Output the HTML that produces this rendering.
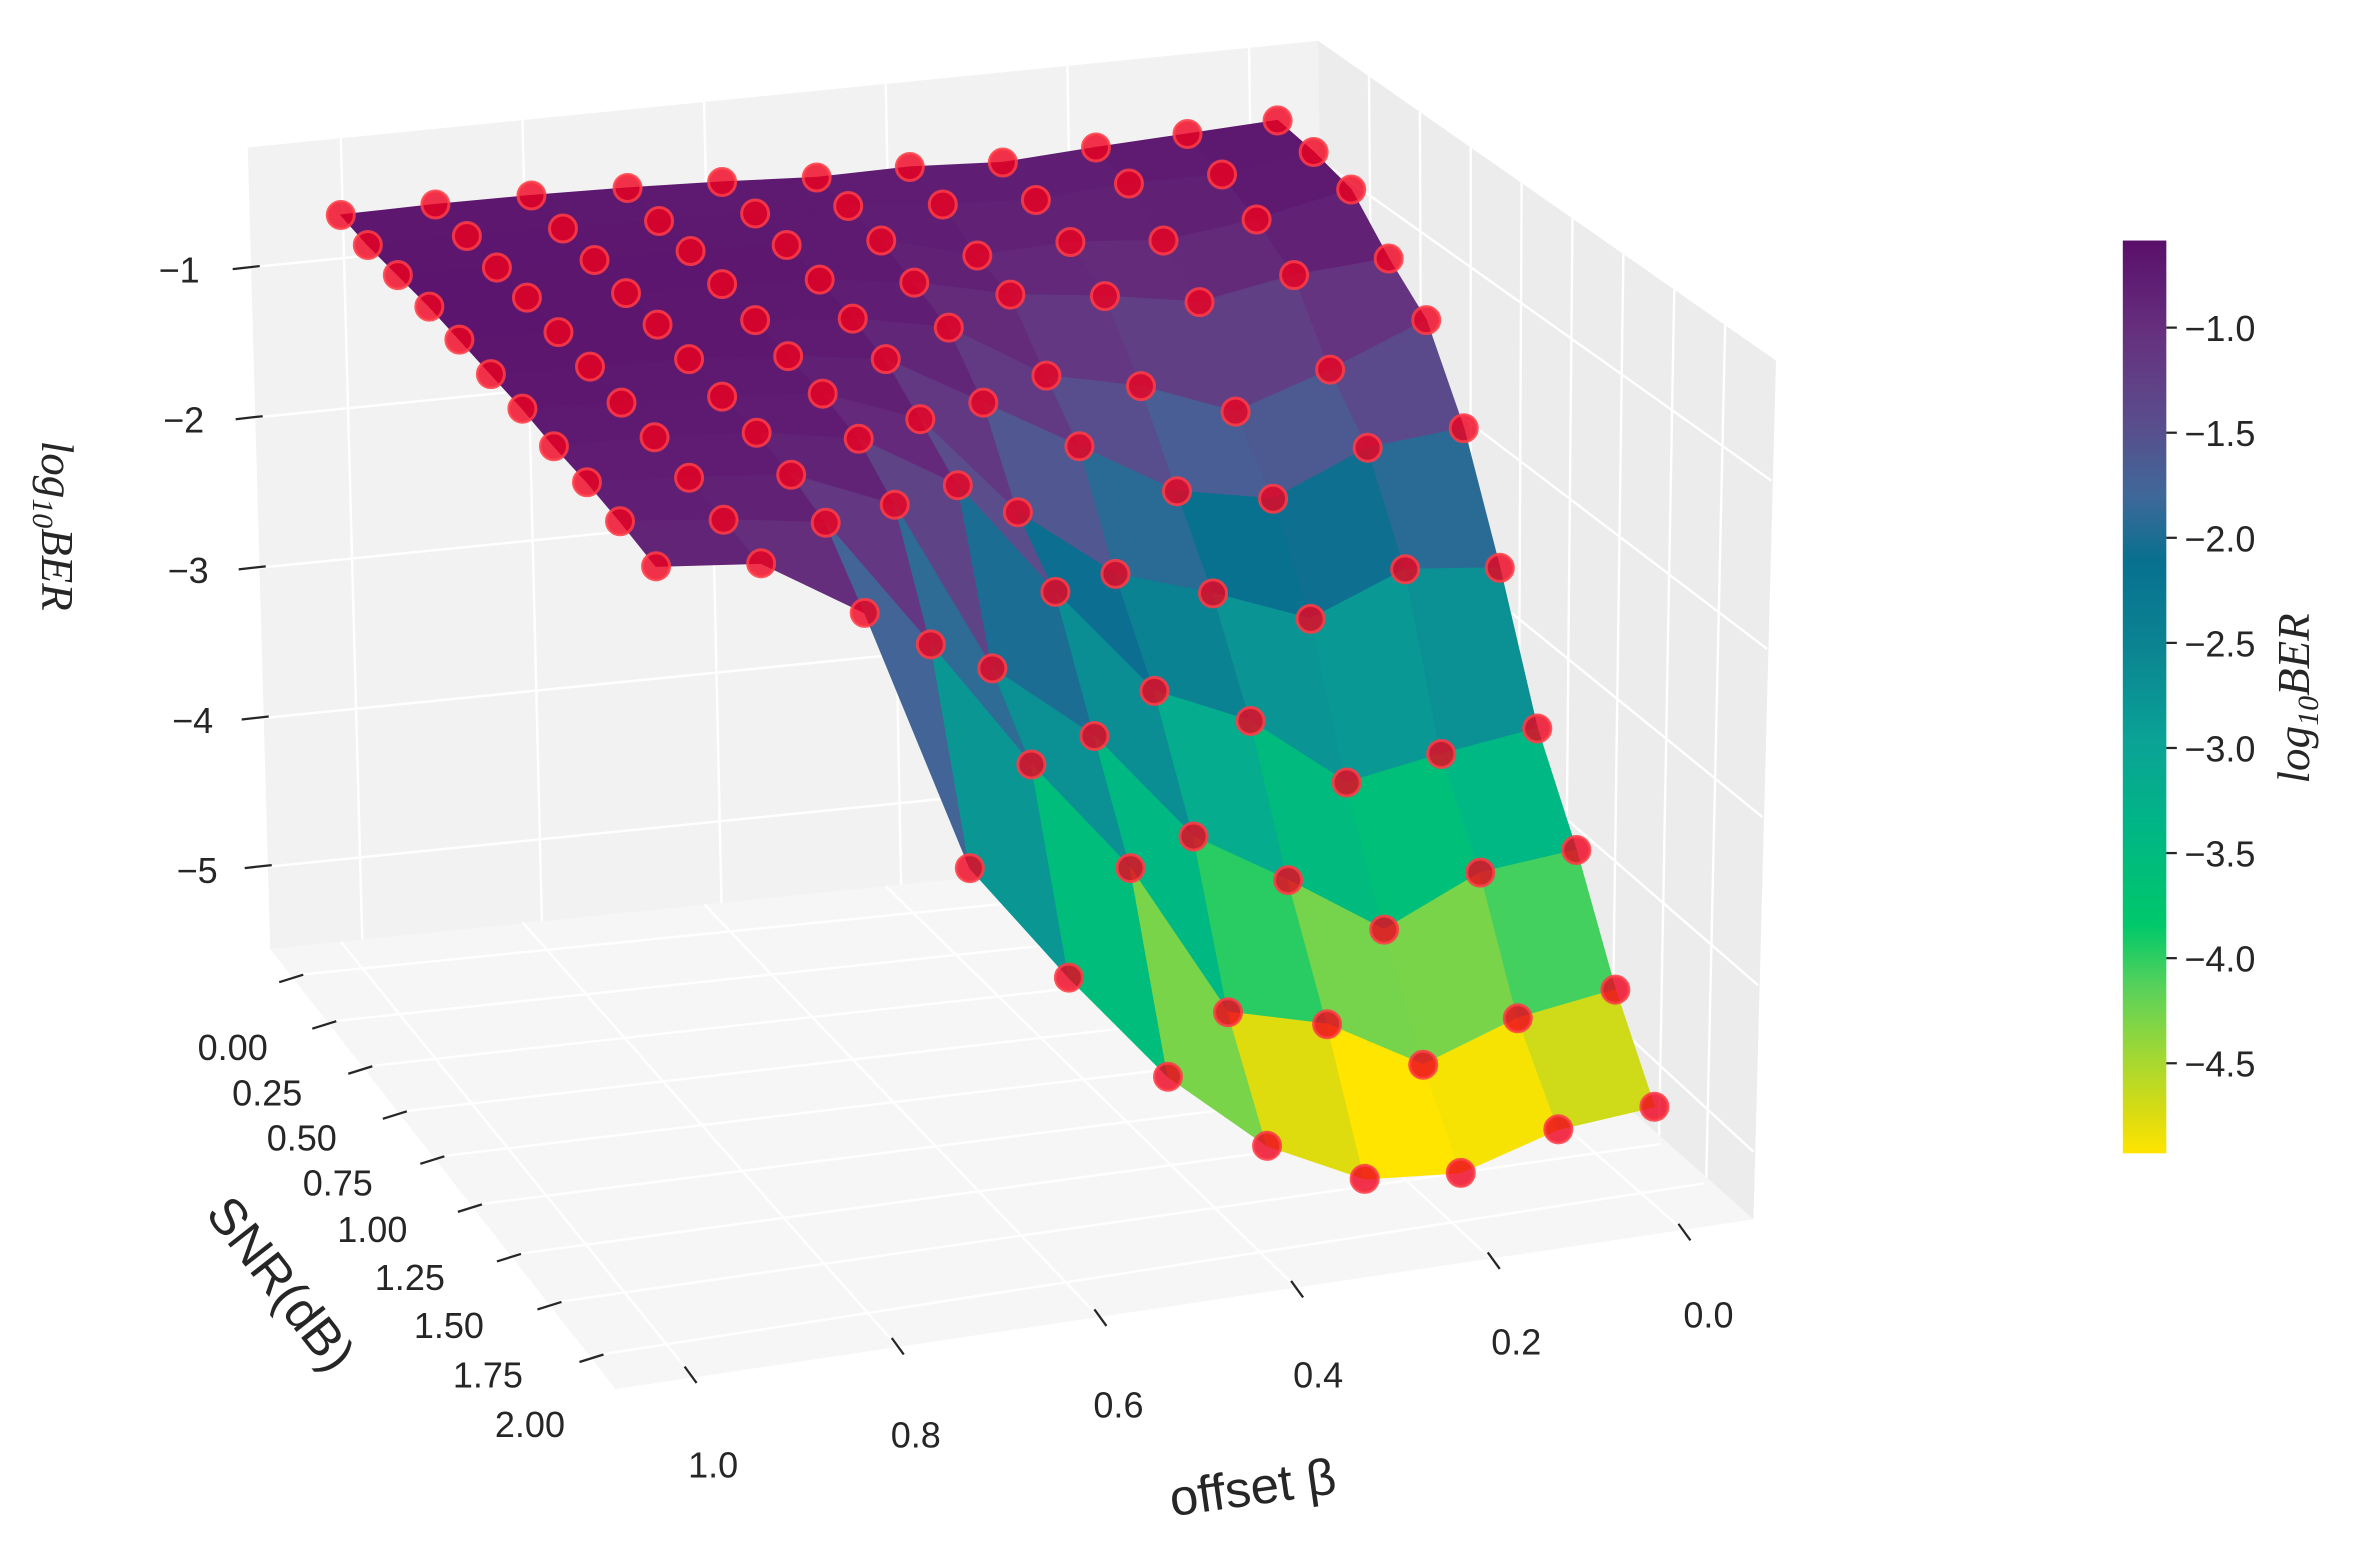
<!DOCTYPE html>
<html><head><meta charset="utf-8"><style>
html,body{margin:0;padding:0;background:#fff}
svg{display:block}
text{font-family:"Liberation Sans",sans-serif;fill:#262626}
</style></head><body>
<svg id="s" width="2354" height="1553" viewBox="0 0 1568 1034" xmlns="http://www.w3.org/2000/svg">
<defs>
<linearGradient id="cb" x1="0" y1="0" x2="0" y2="1">
<stop offset="0" stop-color="#5a0f6a"/><stop offset="0.1" stop-color="#66307e"/><stop offset="0.2" stop-color="#5a4d8c"/><stop offset="0.28" stop-color="#3f6898"/><stop offset="0.35" stop-color="#087090"/><stop offset="0.45" stop-color="#0b8592"/><stop offset="0.55" stop-color="#0aa396"/><stop offset="0.65" stop-color="#00b784"/><stop offset="0.75" stop-color="#00c86a"/><stop offset="0.82" stop-color="#5ad25a"/><stop offset="0.9" stop-color="#a8d830"/><stop offset="0.96" stop-color="#dcdc10"/><stop offset="1" stop-color="#ffe500"/>
</linearGradient>
</defs>
<rect width="1568" height="1034" fill="#fff"/>
<polygon points="165,98 878,27 885,560 180,632" fill="#f2f2f2"/>
<polygon points="878,27 1183,240 1168,812 885,560" fill="#ececec"/>
<polygon points="180,632 885,560 1168,812 410,925" fill="#f6f6f6"/>
<g id="grid" stroke="#ffffff" stroke-width="1.6" fill="none"></g>
<g id="surf"></g>
<g id="pts"></g>
<g stroke="#262626" stroke-width="1.5">
<line x1="155" y1="179" x2="173" y2="177"/><line x1="157" y1="279" x2="175" y2="277"/><line x1="159" y1="379" x2="177" y2="377"/><line x1="161" y1="479" x2="179" y2="477"/><line x1="163" y1="578" x2="181" y2="576"/>
</g>
<g font-size="24" text-anchor="end">
<text x="133" y="188">−1</text><text x="136" y="288">−2</text><text x="139" y="388">−3</text><text x="142" y="488">−4</text><text x="145" y="588">−5</text>
</g>
<text transform="translate(28,350) rotate(90)" text-anchor="middle" font-size="30" style="font-family:'Liberation Serif',serif;font-style:italic">log<tspan font-size="20" dy="6">10</tspan><tspan dy="-6">BER</tspan></text>
<g id="snrt" stroke="#262626" stroke-width="1.5"></g>
<g font-size="24" text-anchor="middle">
<text x="155" y="706">0.00</text><text x="178" y="736">0.25</text><text x="201" y="766">0.50</text><text x="225" y="796">0.75</text><text x="248" y="827">1.00</text><text x="273" y="859">1.25</text><text x="299" y="891">1.50</text><text x="325" y="924">1.75</text><text x="353" y="957">2.00</text>
</g>
<text transform="translate(178,862) rotate(52)" text-anchor="middle" font-size="34">SNR(dB)</text>
<g stroke="#262626" stroke-width="1.5">
<line x1="456" y1="910" x2="464" y2="921"/><line x1="594" y1="891" x2="602" y2="902"/><line x1="729" y1="872" x2="737" y2="883"/><line x1="860" y1="853" x2="868" y2="864"/><line x1="991" y1="834" x2="999" y2="845"/><line x1="1118" y1="815" x2="1126" y2="826"/>
</g>
<g font-size="24" text-anchor="middle">
<text x="475" y="984">1.0</text><text x="610" y="964">0.8</text><text x="745" y="944">0.6</text><text x="878" y="924">0.4</text><text x="1010" y="902">0.2</text><text x="1138" y="884">0.0</text>
</g>
<text transform="translate(836,1002) rotate(-8)" text-anchor="middle" font-size="34">offset β</text>
<rect x="1414" y="160" width="29" height="608" fill="url(#cb)"/>
<g stroke="#262626" stroke-width="1.5">
<line x1="1443" y1="218" x2="1450" y2="218"/><line x1="1443" y1="288" x2="1450" y2="288"/><line x1="1443" y1="358" x2="1450" y2="358"/><line x1="1443" y1="428" x2="1450" y2="428"/><line x1="1443" y1="498" x2="1450" y2="498"/><line x1="1443" y1="568" x2="1450" y2="568"/><line x1="1443" y1="638" x2="1450" y2="638"/><line x1="1443" y1="708" x2="1450" y2="708"/>
</g>
<g font-size="24">
<text x="1455" y="227">−1.0</text><text x="1455" y="297">−1.5</text><text x="1455" y="367">−2.0</text><text x="1455" y="437">−2.5</text><text x="1455" y="507">−3.0</text><text x="1455" y="577">−3.5</text><text x="1455" y="647">−4.0</text><text x="1455" y="717">−4.5</text>
</g>
<text transform="translate(1538,465) rotate(-90)" text-anchor="middle" font-size="30" style="font-family:'Liberation Serif',serif;font-style:italic">log<tspan font-size="20" dy="6">10</tspan><tspan dy="-6">BER</tspan></text>
</svg>
<script>
var P=[
[[227,143],[290,136],[354,130],[418,125],[481,121],[544,118],[606,111],[668,108],[730,98],[791,89],[851,80]],
[[245,163],[311,157],[375,152],[439,147],[503,142],[565,137],[628,136],[690,133],[752,122],[814,116],[875,101]],
[[265,183],[331,178],[396,173],[460,167],[524,163],[587,160],[651,170],[713,161],[775,160],[837,146],[900,126]],
[[286,204],[351,198],[417,195],[481,189],[546,186],[609,188],[673,196],[736,197],[799,201],[862,183],[925,172]],
[[306,226],[372,221],[438,216],[503,213],[568,212],[632,218],[697,250],[760,257],[823,274],[886,246],[950,213]],
[[327,249],[393,244],[459,239],[525,237],[590,239],[655,268],[719,297],[784,327],[848,332],[911,298],[975,285]],
[[348,272],[414,268],[481,264],[548,262],[613,279],[678,341],[743,382],[808,395],[873,412],[936,379],[999,378]],
[[369,297],[436,291],[504,288],[572,292],[638,323],[703,394],[769,460],[833,480],[897,521],[960,502],[1024,485]],
[[391,321],[459,318],[527,316],[596,336],[661,445],[729,490],[795,557],[858,586],[922,619],[986,581],[1050,566]],
[[413,347],[482,346],[550,348],[620,429],[687,509],[753,578],[818,674],[884,682],[948,709],[1011,678],[1076,659]],
[[437,377],[507,375],[576,408],[646,578],[712,651],[778,717],[844,763],[909,785],[973,781],[1038,752],[1102,737]]];
var ST=[[0,[90,15,106]],[0.1,[102,48,126]],[0.2,[90,77,140]],[0.28,[63,104,152]],[0.35,[8,112,144]],[0.45,[11,133,146]],[0.55,[10,163,150]],[0.65,[0,183,132]],[0.75,[0,200,106]],[0.82,[90,210,90]],[0.9,[168,216,48]],[0.96,[220,220,16]],[1,[255,229,0]]];
function cm(p){p=Math.max(0,Math.min(1,p));var k=0;while(k<ST.length-2&&p>ST[k+1][0])k++;
var a=ST[k],b=ST[k+1],f=(p-a[0])/(b[0]-a[0]);
return 'rgb('+[0,1,2].map(function(c){return Math.round(a[1][c]+(b[1][c]-a[1][c])*f)}).join(',')+')';}
function y0(i,j){var u=i/10,v=j/10;return 73*(1-u)*(1-v)+10*u*(1-v)+287*(1-u)*v+247*u*v;}
var Z=[];for(var j=0;j<11;j++){Z[j]=[];for(var i=0;i<11;i++)Z[j][i]=(y0(i,j)-P[j][i][1])/100;}
var NS='http://www.w3.org/2000/svg';
function el(t,a,par){var e=document.createElementNS(NS,t);for(var k in a)e.setAttribute(k,a[k]);par.appendChild(e);return e;}
var S=document.getElementById('surf');
for(var j=0;j<10;j++)for(var i=0;i<10;i++){
var z=(Z[j][i]+Z[j][i+1]+Z[j+1][i]+Z[j+1][i+1])/4;var c=cm((-0.59-z)/4.34);
var pts=[P[j][i],P[j][i+1],P[j+1][i+1],P[j+1][i]].map(function(p){return p.join(',')}).join(' ');
el('polygon',{points:pts,fill:c,stroke:c,'stroke-width':0.8,'stroke-linejoin':'round'},S);}
var Q=document.getElementById('pts');
for(var j=0;j<11;j++)for(var i=0;i<11;i++)el('circle',{cx:P[j][i][0],cy:P[j][i][1],r:9,fill:'rgba(240,0,30,0.8)',stroke:'rgba(255,60,70,0.85)','stroke-width':2},Q);
var G=document.getElementById('grid');
[227,348,469,590,711,832].forEach(function(x){var t=98-(x-165)*71/713,b=632-(x-165)*72/713;el('line',{x1:x,y1:t,x2:x+(x-165)*7/713+15*(1-(x-165)/713),y2:b},G);});
[178,278,378,478,577].forEach(function(y,k){el('line',{x1:165+k*3.6,y1:y,x2:880+k*1.3,y2:y-71},G);});
[178,278,378,478,577].forEach(function(y,k){var yl=y-71;el('line',{x1:880+k*1.3,y1:yl,x2:1180-k*3,y2:yl+213+k*12},G);});
for(var k=1;k<9;k++){var f=k/9;el('line',{x1:878+305*f,y1:27+213*f,x2:885+283*f,y2:560+252*f},G);}
var fr=[[460,915],[598,897],[733,878],[864,858],[995,840],[1122,820]];
var bk=[[227,627],[348,614],[469,602],[590,590],[711,577],[832,565]];
for(var k=0;k<6;k++)el('line',{x1:bk[k][0],y1:bk[k][1],x2:fr[k][0],y2:fr[k][1]},G);
var T=document.getElementById('snrt');
var sx=[188,210,234,257,282,307,333,360,388],sy=[652,683,713,743,773,805,838,870,905];
for(var k=0;k<9;k++){var f=k/8;el('line',{x1:sx[k]+12,y1:sy[k]-3,x2:905+230*f,y2:578+210*f},G);
el('line',{x1:sx[k]-2,y1:sy[k]+2,x2:sx[k]+14,y2:sy[k]-3},T);}
</script>
</body></html>
